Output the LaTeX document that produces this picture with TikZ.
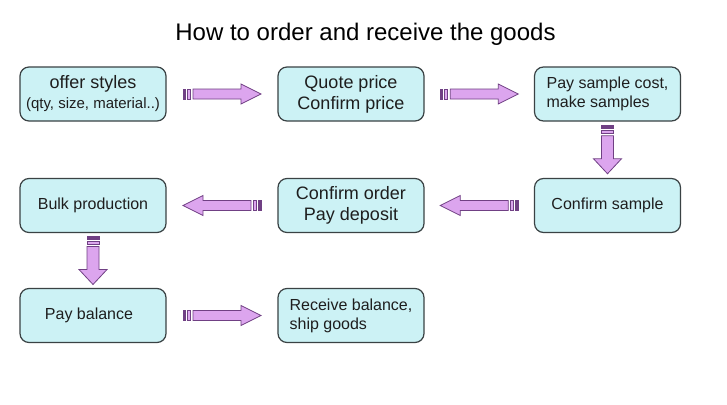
\documentclass[tikz,border=0pt]{standalone}
\usepackage{fontspec}
\setmainfont{Liberation Sans}
\usepackage{tikz}
\usetikzlibrary{calc}

\definecolor{boxfill}{RGB}{204,242,245}
\definecolor{boxline}{RGB}{58,66,68}
\definecolor{arrowfill}{RGB}{220,165,238}
\definecolor{arrowdark}{RGB}{112,64,132}
\definecolor{txt}{RGB}{30,30,30}

\tikzset{
  stepbox/.style={draw=boxline,fill=boxfill,line width=1.2pt,rounded corners=9pt,
    minimum width=146pt,minimum height=54pt,inner sep=0pt,text=txt,align=center},
  big/.style={font=\fontsize{18}{21}\selectfont},
  small/.style={font=\fontsize{16}{19}\selectfont},
  arrowline/.style={draw=arrowdark,line width=0.8pt,fill=arrowfill}
}

% striped block arrow: centre, angle, half length, shaft half width, head half width, head length
\newcommand{\stripearrow}[6]{%
  \begin{scope}[shift={(#1)},rotate=#2]
    \filldraw[arrowline,fill=arrowdark] (-#3,-#4) rectangle (-#3+2.5,#4);
    \filldraw[arrowline] (-#3+4.5,-#4) rectangle (-#3+7.5,#4);
    \filldraw[arrowline] (-#3+10,-#4) -- (#3-#6,-#4) -- (#3-#6,-#5) -- (#3,0)
      -- (#3-#6,#5) -- (#3-#6,#4) -- (-#3+10,#4) -- cycle;
  \end{scope}}

\begin{document}
\begin{tikzpicture}[x=1pt,y=-1pt]
\useasboundingbox[fill=white] (0,0) rectangle (727,404);

\node[anchor=base,font=\fontsize{24}{28}\selectfont] (title) at (365.5,41) {How to order and receive the goods};

\node[stepbox,big] (offer) at (93,94) {offer styles\\[-1pt]\fontsize{15}{18}\selectfont (qty, size, material..)};
\node[stepbox,big] (quote) at (351,94) {Quote price\\Confirm price};
\node[stepbox,small,align=left] (paysample) at (607.5,94) {Pay sample cost,\\make samples};

\node[stepbox,small] (bulk) at (93,205.5) {\raisebox{2pt}{Bulk production}};
\node[stepbox,big] (order) at (351,205.5) {Confirm order\\Pay deposit};
\node[stepbox,small] (confsample) at (607.5,205.5) {Confirm sample};

\node[stepbox,small] (balance) at (93,315.5) {Pay balance\hspace{8pt}};
\node[stepbox,small,align=left] (ship) at (351,315.5) {Receive balance,\\ship goods};

\path (offer.east) -- (quote.west) coordinate[midway] (a1);
\path (quote.east) -- (paysample.west) coordinate[midway] (a2);
\path (paysample.south) -- (confsample.north) coordinate[midway] (a3);
\path (confsample.west) -- (order.east) coordinate[midway] (a4);
\path (order.west) -- (bulk.east) coordinate[midway] (a5);
\path (bulk.south) -- (balance.north) coordinate[midway] (a6);
\path (balance.east) -- (ship.west) coordinate[midway] (a7);

\stripearrow{a1}{0}{39}{5}{10}{20}
\stripearrow{a2}{0}{39}{5}{10}{20}
\stripearrow{a3}{-90}{24}{6}{14}{15}
\stripearrow{a4}{180}{39}{5}{10}{20}
\stripearrow{a5}{180}{39}{5}{10}{20}
\stripearrow{a6}{-90}{24}{6}{14}{15}
\stripearrow{a7}{0}{39}{5}{10}{20}

\end{tikzpicture}
\end{document}
